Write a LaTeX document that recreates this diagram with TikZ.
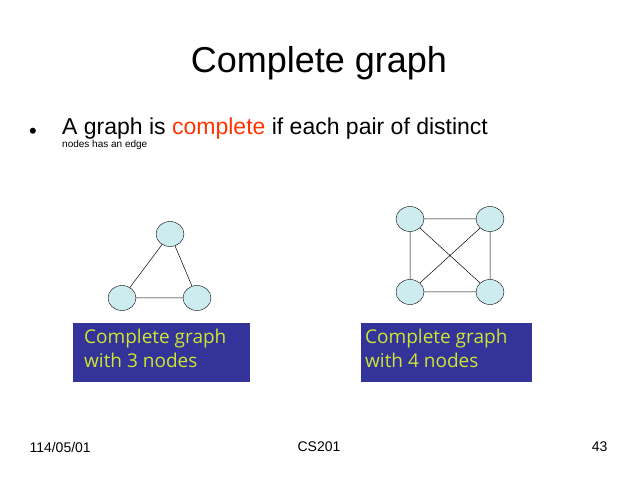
\documentclass[tikz,border=0pt]{standalone}
\usepackage{fontspec}
\usetikzlibrary{shapes.geometric}
\setmainfont{Liberation Sans}
\newfontfamily\lbl{Open Sans}
\definecolor{nodefill}{RGB}{204,236,240}
\definecolor{boxblue}{RGB}{51,51,153}
\definecolor{boxtext}{RGB}{204,230,51}
\definecolor{hl}{RGB}{255,51,0}
\begin{document}
\begin{tikzpicture}[x=1pt,y=-1pt,
  v/.style={ellipse,draw=black,fill=nodefill,minimum width=28pt,minimum height=25pt,inner sep=0pt},
  e/.style={draw=black,line width=0.5pt},
  box/.style={text=boxtext,font=\lbl\fontsize{19}{24}\selectfont,align=left,anchor=north west,inner sep=0pt}]
\useasboundingbox (0,0) rectangle (638,478);
\node (title) at (319,63) {\fontsize{36}{40}\selectfont Complete graph};
\node (bul) at (33,133) {\fontsize{22}{26}\selectfont •};
\node[anchor=north west,align=left,inner sep=0pt] (txt) at (62,118) {\fontsize{23}{28}\selectfont A graph is \textcolor{hl}{complete} if each pair of distinct\\ nodes has an edge};
\node[v] (a) at (170,234) {};
\node[v] (b) at (122,298) {};
\node[v] (c) at (197,298) {};
\draw[e] (a)--(b) (a)--(c) (b)--(c);
\node[v] (p) at (410,219) {};
\node[v] (q) at (490,219) {};
\node[v] (r) at (410,292) {};
\node[v] (s) at (490,292) {};
\draw[e] (p)--(q) (p)--(r) (p)--(s) (q)--(r) (q)--(s) (r)--(s);
\fill[boxblue] (73,323) rectangle (250,382);
\node[box] (l1) at (84,329) {Complete graph\\with 3 nodes};
\fill[boxblue] (361,323) rectangle (532,382);
\node[box] (l2) at (365,329) {Complete graph\\with 4 nodes};
\node[anchor=west] (f1) at (26,447) {\fontsize{14}{16}\selectfont 114/05/01};
\node (f2) at (319,447) {\fontsize{14}{16}\selectfont CS201};
\node[anchor=east] (f3) at (611,447) {\fontsize{14}{16}\selectfont 43};
\end{tikzpicture}
\end{document}
